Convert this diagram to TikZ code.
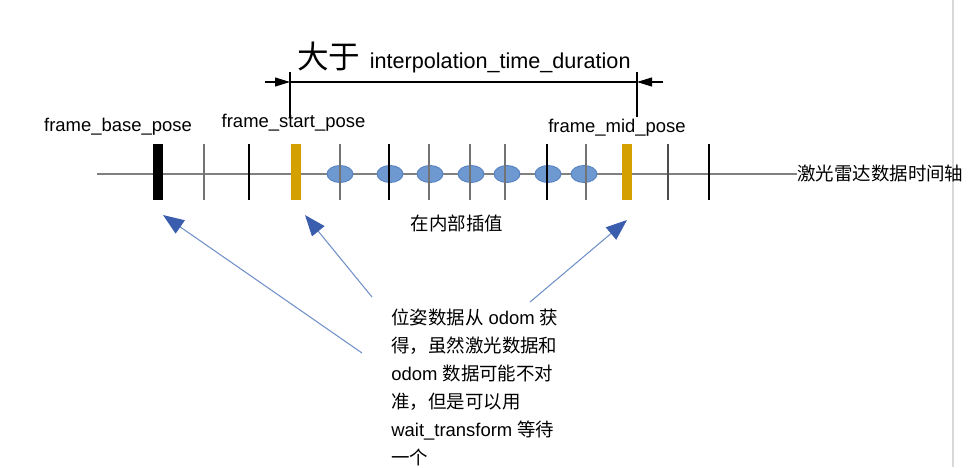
\documentclass[tikz,border=0pt]{standalone}
\usepackage{fontspec}
\setmainfont{Liberation Sans}
\newfontfamily\cjk{Noto Sans CJK SC}
\usetikzlibrary{positioning, calc, arrows.meta, shapes.geometric}
\definecolor{barGold}{HTML}{D4A000}
\definecolor{dotBlue}{HTML}{6D98D0}
\definecolor{dotEdge}{HTML}{5580C0}
\definecolor{tipBlue}{HTML}{3A5DAE}
\definecolor{lineBlue}{HTML}{7090C8}

\begin{document}
\begin{tikzpicture}[x=0.02cm, y=-0.02cm,
  txt/.style={inner sep=0pt, font=\fontsize{10.5}{12}\selectfont},
  posebar/.style={inner sep=0pt, minimum width=0.2cm, minimum height=1.12cm},
  dot/.style={ellipse, draw=dotEdge, fill=dotBlue, line width=0.5pt, minimum width=0.52cm, minimum height=0.34cm, inner sep=0pt},
  pointer/.style={draw=lineBlue, line width=0.6pt, -{Triangle[length=0.42cm, width=0.32cm, color=tipBlue]}},
  dimarrow/.style={line width=0.6pt, -{Triangle[length=0.3cm, width=0.18cm]}}]
\useasboundingbox (0,0) rectangle (976,467);
\draw[black!15, line width=0.8pt] (953,0) -- (953,467);

% time axis
\node[txt, anchor=west] (axislabel) at (797,174) {\cjk 激光雷达数据时间轴};
\coordinate (axisstart) at (97,174);
\draw[black!50, line width=0.8pt] (axisstart) -- (axislabel.west);

% interpolated samples
\foreach \x [count=\i] in {340,390,430,471,507,548,584}
  \node[dot] (s\i) at (\x,174) {};
\foreach \x/\c in {204/black!55, 249/black, 340/black!55, 389/black, 429/black!55, 470/black!55, 505/black!55, 547/black, 586/black!55, 668/black!70, 709/black}
  \draw[\c, line width=0.6pt] (\x,144) -- (\x,200);

% poses
\node[posebar, fill=black] (base) at (158,172) {};
\node[posebar, fill=barGold] (start) at (295.5,172) {};
\node[posebar, fill=barGold] (mid) at (627,172) {};
\node[txt, anchor=base] (baselabel) at (118,131) {frame\_base\_pose};
\node[txt, anchor=base] (startlabel) at (293.5,127) {frame\_start\_pose};
\node[txt, anchor=base] (midlabel) at (617,132) {frame\_mid\_pose};
\node[txt] (inside) at (457,223) {\cjk 在内部插值};

% duration
\coordinate (dl) at (290,82);
\coordinate (dr) at (637,82);
\coordinate (dlout) at (265,82);
\coordinate (drout) at (663,82);
\draw[line width=0.6pt] (290,72) -- (290,118);
\draw[line width=0.6pt] (637,72) -- (637,117);
\draw[line width=0.6pt] (dl) -- (dr);
\draw[dimarrow] (dlout) -- (dl);
\draw[dimarrow] (drout) -- (dr);
\node[inner sep=0pt, anchor=base west] (duration) at (297,68)
  {{\cjk\fontsize{18}{20}\selectfont 大于}\hspace{2.5pt} \fontsize{12.3}{14}\selectfont interpolation\_time\_duration};

% note
\node[txt, anchor=north west, align=left, font=\fontsize{10.5}{15.9}\selectfont] (note) at (391,309)
  {{\cjk 位姿数据从} odom {\cjk 获}\\
   {\cjk 得，虽然激光数据和}\\
   odom {\cjk 数据可能不对}\\
   {\cjk 准，但是可以用}\\
   wait\_transform {\cjk 等待}\\
   {\cjk 一个}};
\coordinate (n1) at (362,353);
\coordinate (n2) at (372,297);
\coordinate (n3) at (530,302);
\coordinate (t1) at (163,215);
\coordinate (t2) at (305,215);
\coordinate (t3) at (627,220);
\draw[pointer] (n1) -- (t1);
\draw[pointer] (n2) -- (t2);
\draw[pointer] (n3) -- (t3);
\end{tikzpicture}
\end{document}
